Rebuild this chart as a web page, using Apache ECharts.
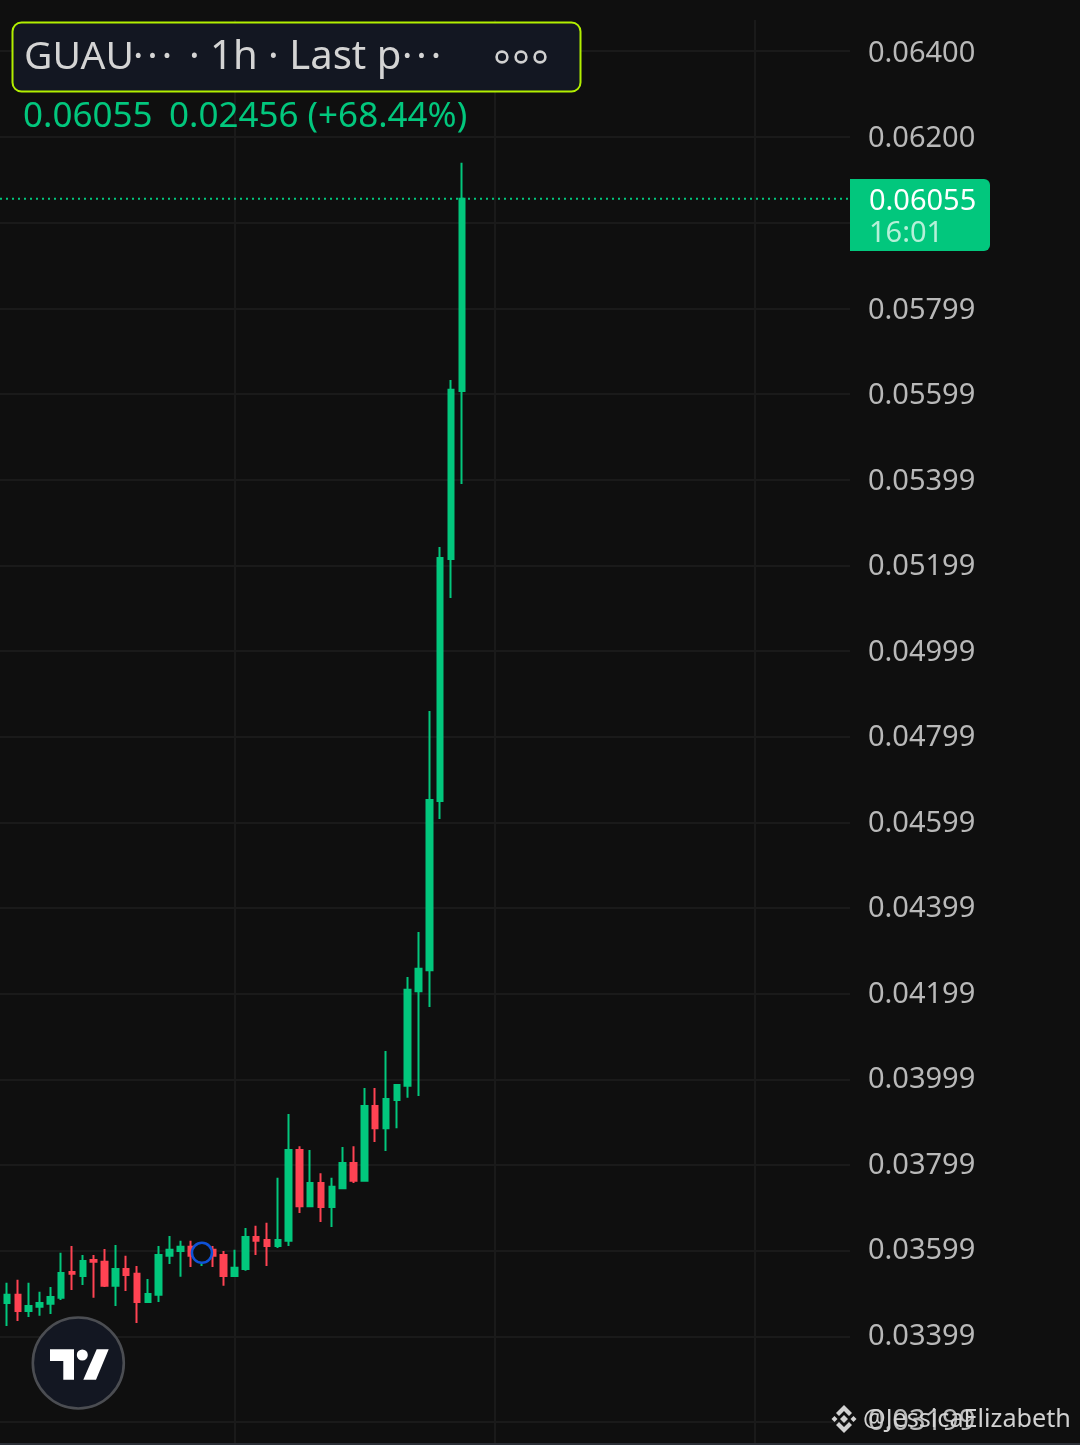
<!DOCTYPE html>
<html><head><meta charset="utf-8">
<script src="https://cdn.jsdelivr.net/npm/echarts@6/dist/echarts.min.js"></script>
<style>html,body{margin:0;padding:0;background:#0f0f0f}#c{width:1080px;height:1445px}</style>
</head><body><div id="c"></div>
<script>
const opens  = [.03477,.03496,.03458,.03468,.03475,.03489,.03549,.03540,.03577,.03573,.03517,.03556,.03545,.03479,.03496,.03587,.03598,.03608,.03591,.03601,.03589,.03540,.03556,.03631,.03624,.03610,.03622,.03834,.03703,.03757,.03701,.03745,.03804,.03762,.03937,.03885,.03951,.03984,.04205,.04254,.04649,.05214,.05606];
const closes = [.03496,.03458,.03470,.03477,.03491,.03547,.03545,.03575,.03573,.03517,.03556,.03542,.03479,.03498,.03589,.03601,.03608,.03587,.03601,.03587,.03540,.03559,.03631,.03622,.03610,.03624,.03834,.03703,.03757,.03701,.03748,.03804,.03762,.03937,.03885,.03953,.03986,.04208,.04257,.04651,.05216,.05609,.06055];
const lows   = [.03423,.03435,.03444,.03447,.03451,.03484,.03507,.03519,.03489,.03514,.03470,.03505,.03430,.03479,.03479,.03568,.03538,.03561,.03563,.03561,.03517,.03540,.03552,.03589,.03563,.03605,.03610,.03687,.03703,.03666,.03654,.03743,.03757,.03762,.03853,.03832,.03885,.03956,.03960,.04168,.04607,.05123,.05389];
const highs  = [.03524,.03531,.03524,.03503,.03514,.03594,.03610,.03589,.03589,.03603,.03612,.03587,.03563,.03533,.03610,.03633,.03622,.03622,.03610,.03610,.03598,.03601,.03652,.03657,.03664,.03769,.03918,.03843,.03834,.03780,.03769,.03841,.03843,.03979,.03979,.04065,.03988,.04238,.04343,.04859,.05242,.05632,.06139];
const gridTicks  = [.064,.062,.05999,.05799,.05599,.05399,.05199,.04999,.04799,.04599,.04399,.04199,.03999,.03799,.03599,.03399,.03199];
const labelTicks = [.064,.062,.05799,.05599,.05399,.05199,.04999,.04799,.04599,.04399,.04199,.03999,.03799,.03599,.03399,.03199];
const lastPrice = 0.06055, lastChange = '0.02456 (+68.44%)', countdown = '16:01';
const markerCandle = 18, markerPrice = 0.03594;
const hourEvery = 24, hourOffset = 21, slotCount = 78;

const BG='#0f0f0f', GRID='#1a1a1a', UP='#02c77d', DOWN='#ff4353', LABEL='#b9b9b9';
const FONT='"Noto Sans"';
const yMin=0.031453, yMax=0.064724;
const categories = Array.from({length:slotCount},(_,i)=>String(i));
const candleData = opens.map((o,i)=>[i,o,closes[i],lows[i],highs[i]]);

const txt=(x,y,text,size,fill,extra)=>({type:'text',z:100,x,y,style:Object.assign({text,fontSize:size,fontFamily:FONT,fill,verticalAlign:'middle'},extra||{})});
const ring=(cx)=>({type:'circle',z:100,shape:{cx,cy:57,r:5.4},style:{fill:'transparent',stroke:'#d0d0d0',lineWidth:2.6}});
const poly=(points,fill)=>({type:'polygon',z:101,shape:{points},style:{fill}});
const LOGO='#d2d2d2';

const chart = echarts.init(document.getElementById('c'),null,{renderer:'canvas'});
chart.setOption({
  animation:false, backgroundColor:BG, tooltip:{show:false}, legend:{show:false},
  grid:[
    {left:0,top:20,width:850,height:1425,containLabel:false},
    {left:7,top:20,width:10.83*(slotCount-1),height:1425,containLabel:false},
    {left:0,top:22.5,width:850,height:1425,containLabel:false}
  ],
  xAxis:[
    {gridIndex:0,type:'value',min:0,max:1,show:false},
    {gridIndex:1,type:'category',data:categories,boundaryGap:false,
     axisLine:{show:false},axisTick:{show:false},axisLabel:{show:false},
     splitLine:{show:true,interval:i=>(i-hourOffset)%hourEvery===0,lineStyle:{color:GRID,width:2}}},
    {gridIndex:2,type:'value',min:0,max:1,show:false}
  ],
  yAxis:[
    {gridIndex:0,type:'value',min:yMin,max:yMax,scale:true,
     axisLine:{show:false},axisTick:{show:false,customValues:gridTicks},axisLabel:{show:false},
     splitLine:{show:true,lineStyle:{color:GRID,width:2}}},
    {gridIndex:1,type:'value',min:yMin,max:yMax,scale:true,show:false,splitLine:{show:false}},
    {gridIndex:2,type:'value',position:'right',min:yMin,max:yMax,scale:true,
     axisLine:{show:false},axisTick:{show:false},splitLine:{show:false},
     axisLabel:{show:true,customValues:labelTicks,margin:18,color:LABEL,fontFamily:FONT,fontSize:29,align:'left',formatter:v=>v.toFixed(5)}}
  ],
  series:[
    {type:'line',xAxisIndex:0,yAxisIndex:0,data:[[0,lastPrice],[1,lastPrice]],symbol:'none',silent:true,z:1,
     lineStyle:{color:UP,width:2,type:[2,4]}},
    {type:'candlestick',xAxisIndex:1,yAxisIndex:1,data:candleData,encode:{x:0,y:[1,2,3,4]},barWidth:6,clip:false,z:3,
     itemStyle:{color:UP,color0:DOWN,borderColor:UP,borderColor0:DOWN,borderWidth:2}},
    {type:'scatter',xAxisIndex:1,yAxisIndex:1,data:[[markerCandle,markerPrice]],symbol:'circle',symbolSize:20,z:5,silent:true,
     itemStyle:{color:BG,opacity:1,borderColor:'#0f52d6',borderWidth:2.5}}
  ],
  graphic:[
    {type:'rect',z:100,shape:{x:12.5,y:22.5,width:568,height:69,r:9},style:{fill:'#131722',stroke:'#b2ef00',lineWidth:2}},
    txt(24,58,'GUAU',39,'#d4d4d4'),
    txt(133,58,'·\u200a·\u200a·',39,'#d4d4d4'),
    txt(189,58,'· 1h · Last p',40,'#d4d4d4'),
    txt(402,58,'·\u200a·\u200a·',39,'#d4d4d4'),
    ring(502),ring(521),ring(540),
    txt(23,117,lastPrice.toFixed(5),35,UP),
    txt(169,117,lastChange,35,UP),
    {type:'rect',z:100,shape:{x:850,y:179,width:140,height:72,r:[0,6,6,0]},style:{fill:UP}},
    txt(869,202,lastPrice.toFixed(5),29,'#ffffff'),
    txt(869,234,countdown,29,'#b5f0d8'),
    {type:'circle',z:100,shape:{cx:78.3,cy:1363,r:45.5},style:{fill:'#131722',stroke:'#4b4d52',lineWidth:2.6}},
    poly([[50,1349.3],[74,1349.3],[74,1379.7],[63.3,1379.7],[63.3,1361],[50,1361]],'#fff'),
    poly([[96.7,1349.3],[108.7,1349.3],[96,1379.7],[83.3,1379.7]],'#fff'),
    {type:'circle',z:101,shape:{cx:82.3,cy:1355,r:5.5},style:{fill:'#fff'}},
    poly([[844,1405],[852,1413],[849,1416],[844,1411],[839,1416],[836,1413]],LOGO),
    poly([[844,1433],[852,1425],[849,1422],[844,1427],[839,1422],[836,1425]],LOGO),
    poly([[844,1415],[848,1419],[844,1423],[840,1419]],LOGO),
    poly([[834.5,1416],[837.5,1419],[834.5,1422],[831.5,1419]],LOGO),
    poly([[853.5,1416],[856.5,1419],[853.5,1422],[850.5,1419]],LOGO),
    txt(863,1420,'@JessicaElizabeth',25.2,'#d2d2d2'),
    {type:'rect',z:102,shape:{x:0,y:1443,width:1080,height:2},style:{fill:'#2b2f36'}}
  ]
});
</script></body></html>
